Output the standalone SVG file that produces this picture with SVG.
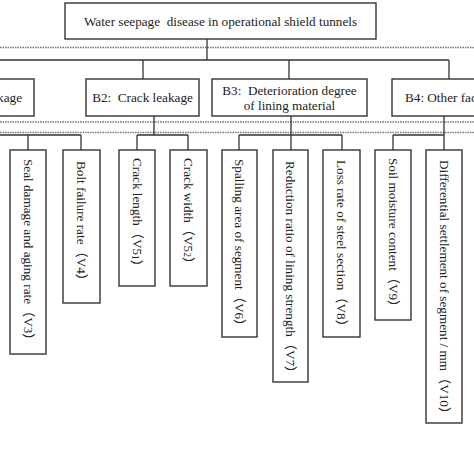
<svg xmlns="http://www.w3.org/2000/svg" width="474" height="474" viewBox="0 0 474 474">
<style>
.box{fill:#fff;stroke:#333;stroke-width:1.4}
.con{fill:none;stroke:#333;stroke-width:1.3}
.dot{fill:none;stroke:#777;stroke-width:1.3;stroke-dasharray:1.5 1}
text{font-family:"Liberation Serif","Noto Sans CJK SC",serif;font-size:13.2px;fill:#222}
.c{text-anchor:middle;dominant-baseline:central}
.v{text-anchor:start;dominant-baseline:central}
</style>
<rect width="474" height="474" fill="#fff"/>
<g id="separators">
<line class="dot" x1="0" y1="47.5" x2="474" y2="47.5"/>
<line class="dot" x1="0" y1="122" x2="474" y2="122"/>
<line class="dot" x1="0" y1="132.5" x2="474" y2="132.5"/>
</g>
<g id="connectors">
<path class="con" d="M207 39V60M0 60H449M143 60V79M289 60V79M449 60V79"/>
<path class="con" d="M0 135H81M28 135V150M81 135V150"/>
<path class="con" d="M154 116V135M137 135H188M137 135V150M188 135V150"/>
<path class="con" d="M291 116V135M239 135H342M239 135V150M291 135V150M342 135V150"/>
<path class="con" d="M444 116V150M393 135H444M393 135V150"/>
</g>
<g id="root">
<rect class="box" x="65" y="3" width="311" height="36"/>
<text class="c" x="220.5" y="21.5" xml:space="preserve">Water seepage  disease in operational shield tunnels</text>
</g>
<g id="B1">
<rect class="box" x="-10" y="79" width="44" height="37"/>
<text x="22" y="97.5" style="text-anchor:end;dominant-baseline:central">B1: Joint leakage</text>
</g>
<g id="B2">
<rect class="box" x="86" y="79" width="113" height="37"/>
<text class="c" x="142.5" y="97.5" xml:space="preserve">B2:  Crack leakage</text>
</g>
<g id="B3">
<rect class="box" x="212" y="79" width="155" height="37"/>
<text class="c" x="289.5" y="90" xml:space="preserve">B3:  Deterioration degree</text>
<text class="c" x="289.5" y="105">of lining material</text>
</g>
<g id="B4">
<rect class="box" x="392" y="79" width="100" height="37"/>
<text x="405" y="97.5" style="dominant-baseline:central">B4: Other factors</text>
</g>
<g id="V3">
<rect class="box" x="10" y="150" width="36" height="204"/>
<text class="v" transform="translate(28 159) rotate(90)">Seal damage and aging rate（V3）</text>
</g>
<g id="V4">
<rect class="box" x="63" y="150" width="37" height="153"/>
<text class="v" transform="translate(81.5 161) rotate(90)">Bolt failure rate（V4）</text>
</g>
<g id="V5_1">
<rect class="box" x="119" y="150" width="36" height="136"/>
<text class="v" transform="translate(137 158) rotate(90)">Crack length（V5<tspan font-size="9.5" dy="2">1</tspan><tspan dy="-2">）</tspan></text>
</g>
<g id="V5_2">
<rect class="box" x="170" y="150" width="37" height="136"/>
<text class="v" transform="translate(188.5 158) rotate(90)">Crack width（V5<tspan font-size="9.5" dy="2">2</tspan><tspan dy="-2">）</tspan></text>
</g>
<g id="V6">
<rect class="box" x="222" y="150" width="35" height="187"/>
<text class="v" transform="translate(239.5 159) rotate(90)">Spalling area of segment（V6）</text>
</g>
<g id="V7">
<rect class="box" x="273" y="150" width="35" height="232"/>
<text class="v" transform="translate(290.5 161) rotate(90)">Reduction ratio of lining strength（V7）</text>
</g>
<g id="V8">
<rect class="box" x="323" y="150" width="37" height="187"/>
<text class="v" transform="translate(341.5 160) rotate(90)">Loss rate of steel section（V8）</text>
</g>
<g id="V9">
<rect class="box" x="375" y="150" width="36" height="170"/>
<text class="v" transform="translate(393 158) rotate(90)">Soil moisture content（V9）</text>
</g>
<g id="V10">
<rect class="box" x="426" y="150" width="36" height="273"/>
<text class="v" transform="translate(444 160) rotate(90)">Differential settlement of segment / mm（V10）</text>
</g>
</svg>
